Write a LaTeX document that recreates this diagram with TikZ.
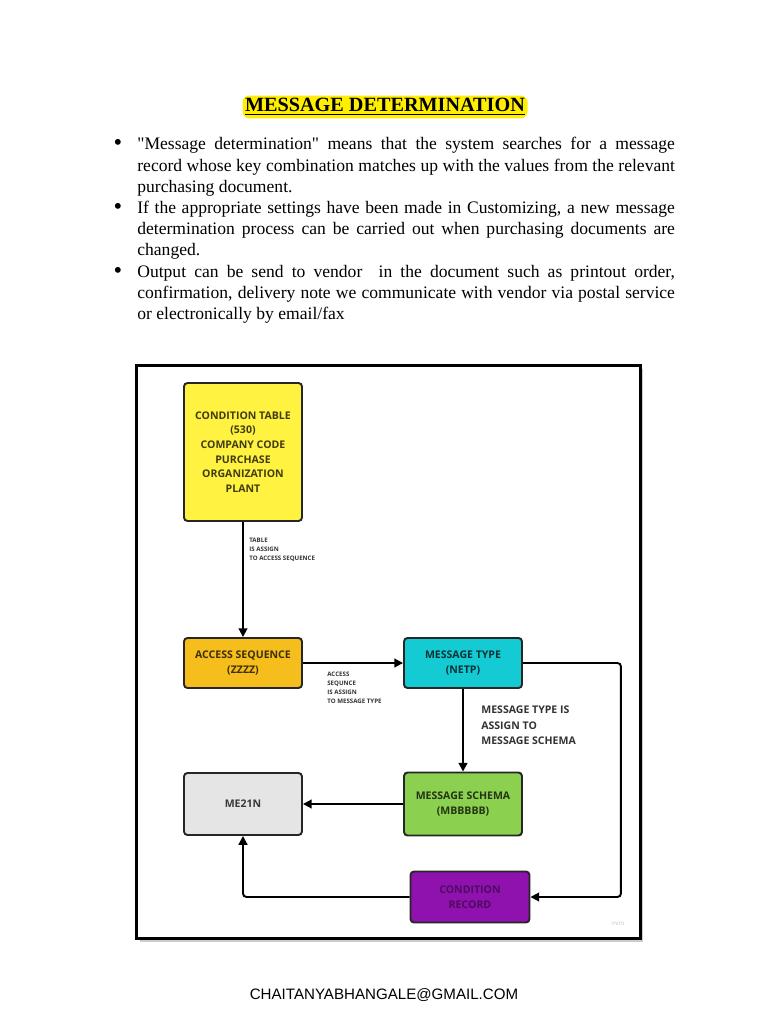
\documentclass[tikz,border=0pt]{standalone}
\usepackage{fontspec}
\setmainfont{Liberation Serif}
\newfontfamily\boxfont{Open Sans}
\newfontfamily\mailfont{Liberation Sans}
\usetikzlibrary{arrows.meta}
\definecolor{hiyellow}{RGB}{255,238,0}
\definecolor{ctyellow}{RGB}{255,242,64}
\definecolor{asorange}{RGB}{246,190,28}
\definecolor{mtcyan}{RGB}{20,203,212}
\definecolor{msgreen}{RGB}{140,208,80}
\definecolor{megrey}{RGB}{229,229,229}
\definecolor{crpurple}{RGB}{143,18,175}
\definecolor{inkgrey}{RGB}{51,51,51}
\begin{document}
\begin{tikzpicture}[x=0.02cm, y=-0.02cm,
  box/.style={draw=black!85, line width=1.1pt, rounded corners=2pt, minimum width=2.36cm, align=center, inner sep=0pt, text=black, text opacity=0.75, font=\boxfont\bfseries\fontsize{6pt}{8.3pt}\selectfont},
  arr/.style={line width=1.1pt, -{Triangle[length=5pt,width=5pt]}},
  note/.style={anchor=north west, inner sep=0pt, align=left, text=inkgrey, font=\boxfont\bfseries\fontsize{3.5pt}{5.1pt}\selectfont},
  dot/.style={anchor=base, inner sep=0pt, font=\fontsize{14pt}{14pt}\selectfont},
  para/.style={anchor=base west, inner sep=0pt, text width=306pt, align=justify, font=\fontsize{10pt}{12.1pt}\selectfont}]
\useasboundingbox (0,0) rectangle (768,1024);
\node[fill=hiyellow, rounded corners=4pt, inner xsep=1.5pt, inner ysep=0pt, minimum height=0.46cm, font=\bfseries\fontsize{11.5pt}{13pt}\selectfont] (title) at (385,107) {\underline{MESSAGE DETERMINATION}};
\node[dot] (d1) at (118,151) {\textbullet};
\node[dot] (d2) at (118,214) {\textbullet};
\node[dot] (d3) at (118,278) {\textbullet};
\node[para] (p1) at (137,150) {\textquotedbl Message determination\textquotedbl{} means that the system searches for a message\linebreak record whose key combination matches up with the values from the relevant\linebreak purchasing document.};
\node[para] (p2) at (137,213) {If the appropriate settings have been made in Customizing, a new message\linebreak determination process can be carried out when purchasing documents are\linebreak changed.};
\node[para] (p3) at (137,277) {Output can be send to vendor\ \ in the document such as printout order,\linebreak confirmation, delivery note we communicate with vendor via postal service\linebreak or electronically by email/fax};
\fill[black!20] (140,369) rectangle (643,942);
\filldraw[fill=white, line width=0.06cm] (136,365) rectangle (640,938);
\node[box, fill=ctyellow, minimum height=2.76cm] (ct) at (243,452) {CONDITION TABLE\\(530)\\COMPANY CODE\\PURCHASE\\ORGANIZATION\\PLANT};
\node[box, fill=asorange, minimum height=1cm] (as) at (243,663) {ACCESS SEQUENCE\\(ZZZZ)};
\node[box, fill=mtcyan, minimum height=1cm] (mt) at (463,663) {MESSAGE TYPE\\(NETP)};
\node[box, fill=msgreen, minimum height=1.26cm] (ms) at (463,804) {MESSAGE SCHEMA\\(MBBBBB)};
\node[box, fill=megrey, minimum height=1.24cm] (me) at (243,804) {ME21N};
\node[box, fill=crpurple, minimum height=1.02cm, minimum width=2.38cm, text opacity=0.45] (cr) at (470,897) {CONDITION\\RECORD};
\node[note] (n1) at (249,538) {TABLE\\IS ASSIGN\\TO ACCESS SEQUENCE};
\node[note] (n2) at (327,672) {ACCESS\\SEQUNCE\\IS ASSIGN\\TO MESSAGE TYPE};
\node[note, font=\boxfont\bfseries\fontsize{6pt}{8.8pt}\selectfont] (n3) at (481,706) {MESSAGE TYPE IS\\ASSIGN TO\\MESSAGE SCHEMA};
\node[text=black!22, font=\boxfont\fontsize{3.5pt}{4pt}\selectfont] (wm) at (618,923) {miro};
\draw[arr] (ct) -- (as);
\draw[arr] (as) -- (mt);
\draw[arr] (mt) -- (ms);
\draw[arr] (ms) -- (me);
\draw[arr, rounded corners=2pt] (mt.east) -- ++(98,0) |- (cr.east);
\draw[arr, rounded corners=2pt] (cr.west) -| (me.south);
\node[font=\mailfont\fontsize{8.6pt}{10pt}\selectfont] (mail) at (384,995) {CHAITANYABHANGALE@GMAIL.COM};
\end{tikzpicture}
\end{document}
